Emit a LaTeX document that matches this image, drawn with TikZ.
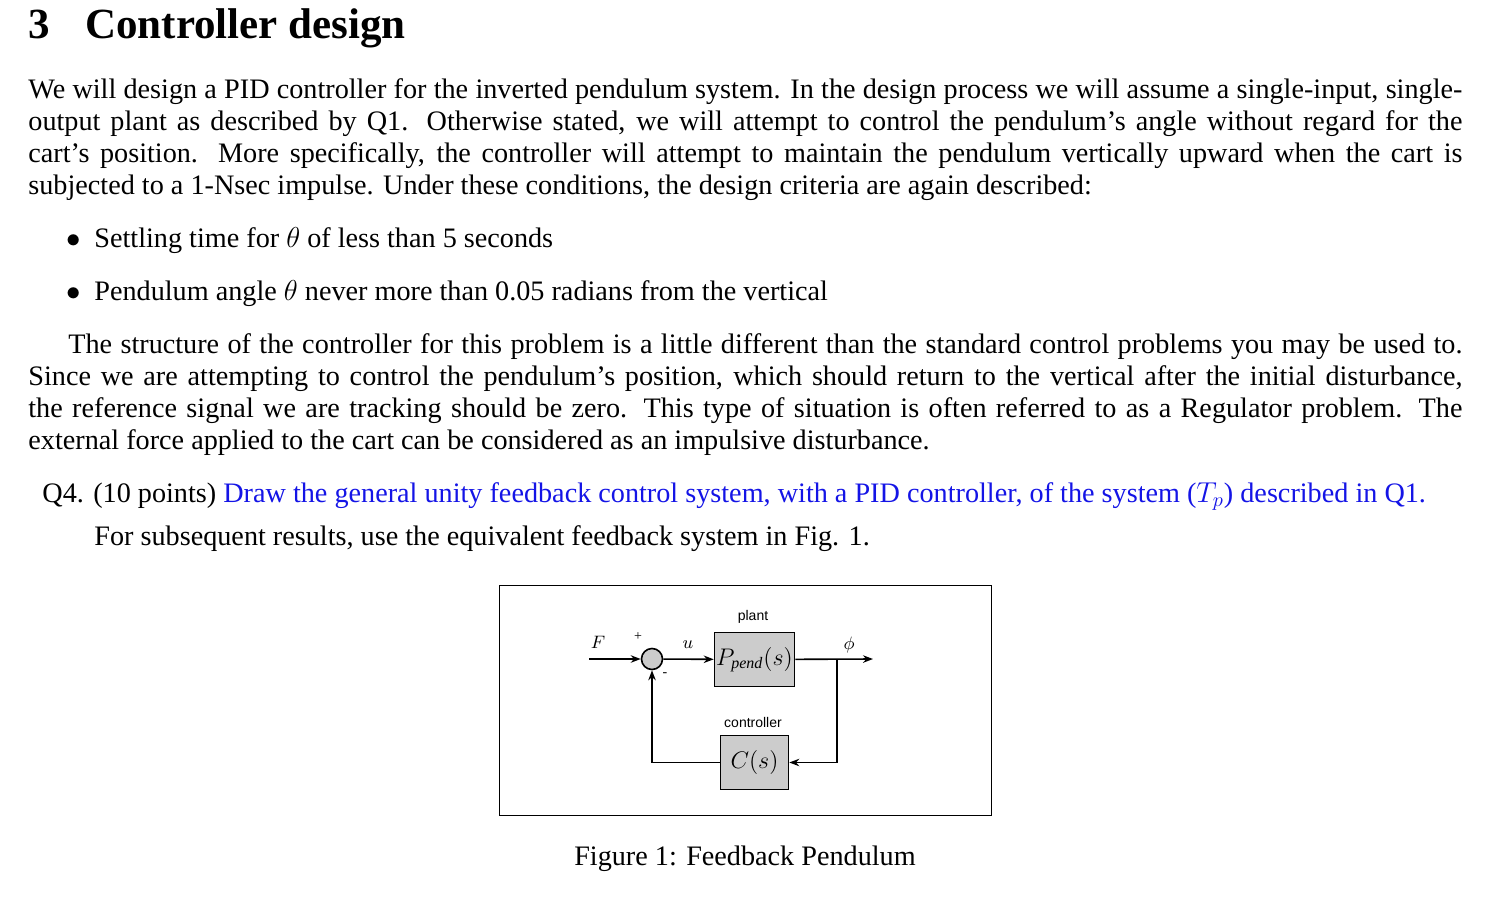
\documentclass[tikz,border=0pt]{standalone}
\usepackage{fontspec}
\setmainfont{Liberation Serif}
\newfontfamily\figsans{Liberation Sans}
\usetikzlibrary{arrows.meta}
\definecolor{qblue}{RGB}{20,20,230}
\begin{document}
\begin{tikzpicture}[x=0.5pt,y=-0.5pt,
  ln/.style={anchor=base west,inner sep=0pt,font=\fontsize{14.1}{16}\selectfont},
  blk/.style={draw,fill=black!20,thick,inner sep=0pt},
  sig/.style={-{Stealth[length=5pt]},thick},
  lab/.style={font=\figsans\fontsize{7}{8}\selectfont,inner sep=0pt}]
\useasboundingbox (0,0) rectangle (1509,910);
\newcommand{\J}[1]{\makebox[717pt][s]{#1}}
\node[anchor=base west,inner sep=0pt,font=\bfseries\fontsize{21.5}{24}\selectfont] (h3) at (28,39) {3};
\node[anchor=base west,inner sep=0pt,font=\bfseries\fontsize{21.5}{24}\selectfont] (ht) at (85,39) {Controller design};
\node[ln] (l1) at (28,98) {\J{We will design a PID controller for the inverted pendulum system. In the design process we will assume a single-input, single-}};
\node[ln] (l2) at (28,130) {\J{output plant as described by Q1. Otherwise stated, we will attempt to control the pendulum’s angle without regard for the}};
\node[ln] (l3) at (28,162) {\J{cart’s position. More specifically, the controller will attempt to maintain the pendulum vertically upward when the cart is}};
\node[ln] (l4) at (28,194) {subjected to a 1-Nsec impulse. Under these conditions, the design criteria are again described:};
\node[ln] (b1d) at (66,247) {$\bullet$};
\node[ln] (b1) at (94,247) {Settling time for $\theta$ of less than 5 seconds};
\node[ln] (b2d) at (66,300) {$\bullet$};
\node[ln] (b2) at (94,300) {Pendulum angle $\theta$ never more than 0.05 radians from the vertical};
\node[ln] (p1) at (68,353) {\makebox[697pt][s]{The structure of the controller for this problem is a little different than the standard control problems you may be used to.}};
\node[ln] (p2) at (28,385) {\J{Since we are attempting to control the pendulum’s position, which should return to the vertical after the initial disturbance,}};
\node[ln] (p3) at (28,417) {\J{the reference signal we are tracking should be zero. This type of situation is often referred to as a Regulator problem. The}};
\node[ln] (p4) at (28,449) {external force applied to the cart can be considered as an impulsive disturbance.};
\node[ln] (q4) at (42,502) {Q4. (10 points) \textcolor{qblue}{Draw the general unity feedback control system, with a PID controller, of the system ($T_p$) described in Q1.}};
\node[ln] (q4b) at (94,545) {For subsequent results, use the equivalent feedback system in Fig. 1.};
% figure
\draw[thin] (499,585) rectangle (991,815);
\node[blk,minimum width=40pt,minimum height=27pt,font=\large] (plant) at (754.5,659.5) {$P_{\mathit{pend}}(s)$};
\node[blk,minimum width=34pt,minimum height=27pt,font=\large] (ctrl) at (754.5,762.5) {$C(s)$};
\node[draw,thick,circle,fill=black!20,minimum size=10.5pt,inner sep=0pt] (sum) at (652,659) {};
\coordinate (in) at (589,659);
\coordinate (out) at (873,659);
\coordinate (br) at (837,659);
\draw[sig] (in) -- (sum);
\draw[sig] (sum) -- (plant);
\draw[sig] (plant) -- (out);
\draw[sig] (br) |- (ctrl);
\draw[sig] (ctrl) -| (sum);
\node[lab] (plab) at (753,617) {plant};
\node[lab] (clab) at (753,722) {controller};
\node[inner sep=0pt,font=\small] (F) at (598,642) {$F$};
\node[inner sep=0pt,font=\scriptsize] (plus) at (638,637) {+};
\node[inner sep=0pt,font=\scriptsize] (minus) at (665,675) {-};
\node[inner sep=0pt,font=\small] (u) at (688,645) {$u$};
\node[inner sep=0pt,font=\small] (phi) at (849,645) {$\phi$};
\node[anchor=base,inner sep=0pt,font=\fontsize{14.1}{16}\selectfont] (cap) at (745,865) {Figure 1: Feedback Pendulum};
\end{tikzpicture}
\end{document}
